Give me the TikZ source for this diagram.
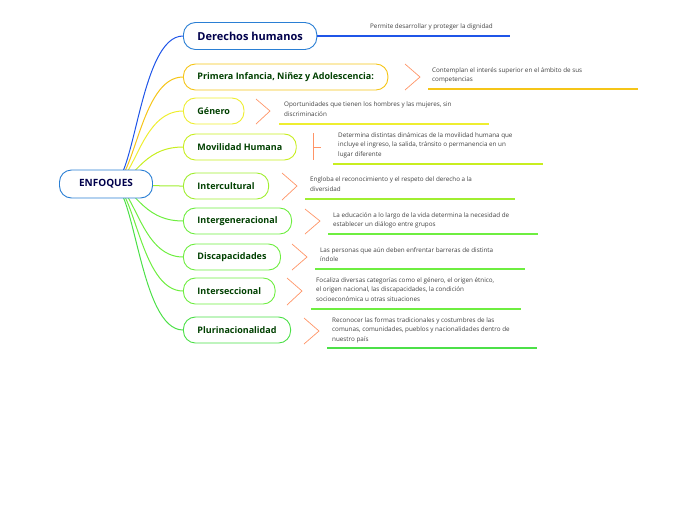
\documentclass[tikz,border=0pt]{standalone}
\usepackage{fontspec}
\setmainfont{Open Sans}
\begin{document}
\begin{tikzpicture}[x=1pt,y=-1pt,
  br/.style={draw=#1,line width=0.9pt,rounded corners=12pt,minimum height=26pt,anchor=west,inner xsep=14pt,font=\fontsize{9}{10}\selectfont\bfseries,text=green!25!black,fill=white},
  con/.style={draw=#1,line width=1pt},
  chev/.style={draw=orange!60!red!60,line width=0.7pt},
  desc/.style={anchor=north west,align=left,inner sep=0pt,font=\fontsize{6.3}{9.6}\selectfont,text=black!75},
  ul/.style={draw=#1,line width=1.3pt}]
\useasboundingbox (0,0) rectangle (696,520);
\definecolor{cb}{HTML}{2A7FD4}
\definecolor{cbl}{HTML}{1F55E8}
\definecolor{cg}{HTML}{F5C518}
\definecolor{cy}{HTML}{EEEE30}
\definecolor{cyg}{HTML}{C8EE20}
\definecolor{clg}{HTML}{A0EE30}
\definecolor{cgr}{HTML}{6EEE40}
\definecolor{cgg}{HTML}{4CE048}
\coordinate (src) at (112,184);
\node[br=cb,text=blue!30!black,font=\fontsize{11}{12}\selectfont\bfseries,minimum height=27pt] (n1) at (183,36) {Derechos humanos};
\node[br=cg] (n2) at (183,77) {Primera Infancia, Niñez y Adolescencia:};
\node[br=cy] (n3) at (183,111) {Género};
\node[br=cyg] (n4) at (183,147) {Movilidad Humana};
\node[br=clg] (n5) at (183,186) {Intercultural};
\node[br=cgr] (n6) at (183,221) {Intergeneracional};
\node[br=cgr] (n7) at (183,257) {Discapacidades};
\node[br=cgr] (n8) at (183,291) {Interseccional};
\node[br=cgg] (n9) at (183,330) {Plurinacionalidad};
\foreach \n/\c in {n1/cbl,n2/cg,n3/cy,n4/cyg,n5/clg,n6/cgr,n7/cgr,n8/cgr,n9/cgg}{
  \draw[con=\c] (src) .. controls (135,184) and (140,0|-\n.west) .. (\n.west);
}
\node[draw=cb,line width=0.9pt,rounded corners=12pt,minimum width=93pt,minimum height=28pt,fill=white,font=\fontsize{10}{11}\selectfont\bfseries,text=blue!30!black] (enf) at (106,184) {ENFOQUES};
% 1
\coordinate (e1) at (510,36);
\draw[con=cbl,line width=1.2pt] (n1.east) -- (e1);
\node[desc] (d1) at (370,24) {Permite desarrollar y proteger la dignidad};
% 2
\draw[chev] (405,64) -- (420,77) -- (405,90);
\node[desc] (d2) at (432,67) {Contemplan el interés superior en el ámbito de sus\\competencias};
\draw[ul=cg] (428,89) -- (638,89);
% 3
\draw[chev] (256,99) -- (270,111) -- (256,124);
\node[desc] (d3) at (284,102) {Oportunidades que tienen los hombres y las mujeres, sin\\discriminación};
\draw[ul=cy] (279,124) -- (489,124);
% 4
\draw[chev] (313,133) -- (313,160) (313,147) -- (321,147);
\node[desc] (d4) at (338,132) {Determina distintas dinámicas de la movilidad humana que\\incluye el ingreso, la salida, tránsito o permanencia en un\\lugar diferente};
\draw[ul=cyg] (333,164) -- (543,164);
% 5
\draw[chev] (282,173) -- (297,186) -- (282,200);
\node[desc] (d5) at (310,177) {Engloba el reconocimiento y el respeto del derecho a la\\diversidad};
\draw[ul=clg] (305,199) -- (515,199);
% 6
\draw[chev] (305,209) -- (320,221) -- (305,234);
\node[desc] (d6) at (333,212) {La educación a lo largo de la vida determina la necesidad de\\establecer un diálogo entre grupos};
\draw[ul=cgr] (328,234) -- (538,234);
% 7
\draw[chev] (292,244) -- (307,257) -- (292,270);
\node[desc] (d7) at (320,247) {Las personas que aún deben enfrentar barreras de distinta\\índole};
\draw[ul=cgr] (315,269) -- (525,269);
% 8
\draw[chev] (287,278) -- (302,291) -- (287,305);
\node[desc] (d8) at (316,277) {Focaliza diversas categorías como el género, el origen étnico,\\el origen nacional, las discapacidades, la condición\\socioeconómica u otras situaciones};
\draw[ul=cgr] (311,309) -- (521,309);
% 9
\draw[chev] (304,318) -- (319,331) -- (304,344);
\node[desc] (d9) at (332,317) {Reconocer las formas tradicionales y costumbres de las\\comunas, comunidades, pueblos y nacionalidades dentro de\\nuestro país};
\draw[ul=cgg] (327,348) -- (537,348);
\end{tikzpicture}
\end{document}
